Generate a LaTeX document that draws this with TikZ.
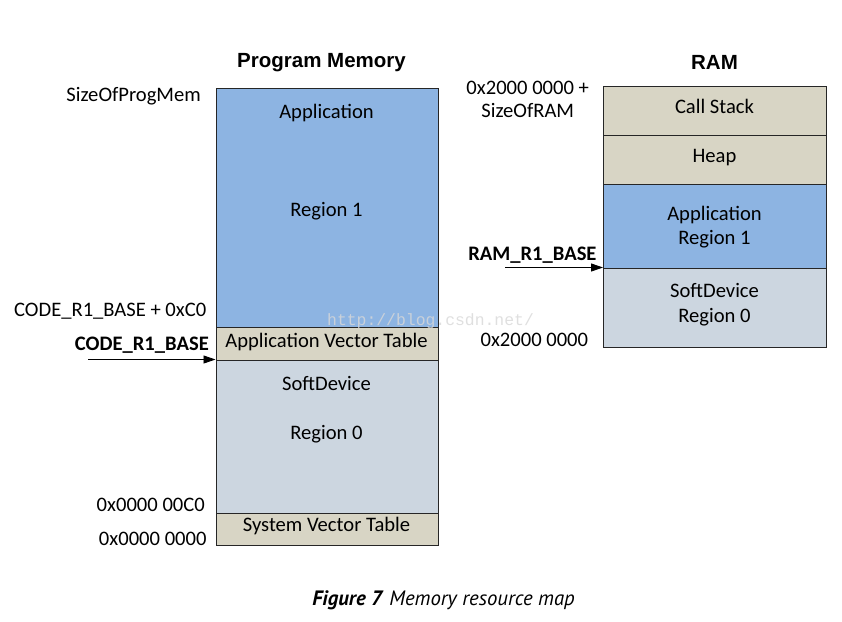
\documentclass[tikz,border=0pt]{standalone}
\usepackage{fontspec}
\setmainfont{Carlito}
\newfontfamily\titlefont{Liberation Sans}
\newfontfamily\capfont{PT Sans}
\newfontfamily\wmfont{Liberation Mono}
\usetikzlibrary{arrows.meta}
\definecolor{appblue}{HTML}{8DB4E2}
\definecolor{tanbox}{HTML}{D8D5C5}
\definecolor{sdgray}{HTML}{CCD6E0}
\definecolor{edge}{HTML}{262626}
\definecolor{wmgray}{HTML}{D8D8D8}
\begin{document}
\begin{tikzpicture}[x=1pt,y=-1pt,
  region/.style={draw=edge, line width=1.1pt, inner sep=0pt, anchor=north west, minimum width=222.5pt},
  lbl/.style={font=\fontsize{20.6}{24}\selectfont, inner sep=0pt, anchor=base},
  rlbl/.style={lbl, anchor=base east},
  blbl/.style={font=\fontsize{20.6}{24}\selectfont\bfseries, inner sep=0pt, anchor=base east},
  ttl/.style={font=\titlefont\fontsize{20.5}{24}\selectfont\bfseries, inner sep=0pt, anchor=base},
  ptr/.style={draw=black, line width=0.9pt, -{Triangle[length=12pt,width=8pt]}}
]
\useasboundingbox (0,0) rectangle (842,621);
\fill[white] (0,0) rectangle (842,621);

% Program memory regions
\node[region, fill=appblue, minimum height=239pt] (app) at (215.5,88) {};
\node[region, fill=tanbox, minimum height=32.5pt] (avt) at (215.5,327) {};
\node[region, fill=sdgray, minimum height=153pt] (sd) at (215.5,359.5) {};
\node[region, fill=tanbox, minimum height=32.5pt] (svt) at (215.5,512.5) {};

% RAM regions
\node[region, fill=tanbox, minimum height=48.5pt] (stack) at (603,86) {};
\node[region, fill=tanbox, minimum height=49pt] (heap) at (603,134.5) {};
\node[region, fill=appblue, minimum height=84pt] (ramapp) at (603,183.5) {};
\node[region, fill=sdgray, minimum height=79pt] (ramsd) at (603,267.5) {};

% titles
\node[ttl] (pmt) at (321.5,67.3) {Program Memory};
\node[ttl] (ramt) at (714.5,69.3) {RAM};

% program memory texts
\node[lbl] (t1) at (326.5,118.3) {Application};
\node[lbl] (t2) at (326.5,216) {Region 1};
\node[lbl] (t3) at (326.5,347.3) {Application Vector Table};
\node[lbl] (t4) at (326.5,390) {SoftDevice};
\node[lbl] (t5) at (326.5,439.3) {Region 0};
\node[lbl] (t6) at (326.5,531.7) {System Vector Table};

% program memory address labels
\node[rlbl] (a1) at (201,101.3) {SizeOfProgMem};
\node[rlbl] (a2) at (206.5,316.7) {CODE\_R1\_BASE + 0xC0};
\node[blbl] (a3) at (209,350) {CODE\_R1\_BASE};
\node[rlbl] (a4) at (205,511.7) {0x0000 00C0};
\node[rlbl] (a5) at (206.7,545) {0x0000 0000};

% RAM texts
\node[lbl] (r1) at (714.5,113.3) {Call Stack};
\node[lbl] (r2) at (714.5,162.3) {Heap};
\node[lbl] (r3) at (714.5,220) {Application};
\node[lbl] (r4) at (714.5,244) {Region 1};
\node[lbl] (r5) at (714.5,297.3) {SoftDevice};
\node[lbl] (r6) at (714.5,322.7) {Region 0};

% RAM address labels
\node[lbl] (b1) at (527.7,94) {0x2000 0000 +};
\node[lbl] (b2) at (527.7,117.7) {SizeOfRAM};
\node[blbl] (b3) at (596.7,260) {RAM\_R1\_BASE};
\node[rlbl] (b4) at (588.3,346.7) {0x2000 0000};

% pointer arrows
\coordinate (p1) at (88,359.5);
\coordinate (p2) at (505,267.5);
\draw[ptr] (p1) -- (sd.north west);
\draw[ptr] (p2) -- (ramsd.north west);

% watermark
\node[font=\wmfont\fontsize{16.4}{20}\selectfont, text=wmgray, opacity=0.8, inner sep=0pt, anchor=base west] (wm) at (327,325) {http://blog.csdn.net/};

% caption
\node[font=\capfont\fontsize{20.8}{24}\selectfont\itshape, inner sep=0pt, anchor=base] (cap) at (443.5,605) {\textbf{Figure 7}\hspace{7pt}Memory resource map};
\end{tikzpicture}
\end{document}
